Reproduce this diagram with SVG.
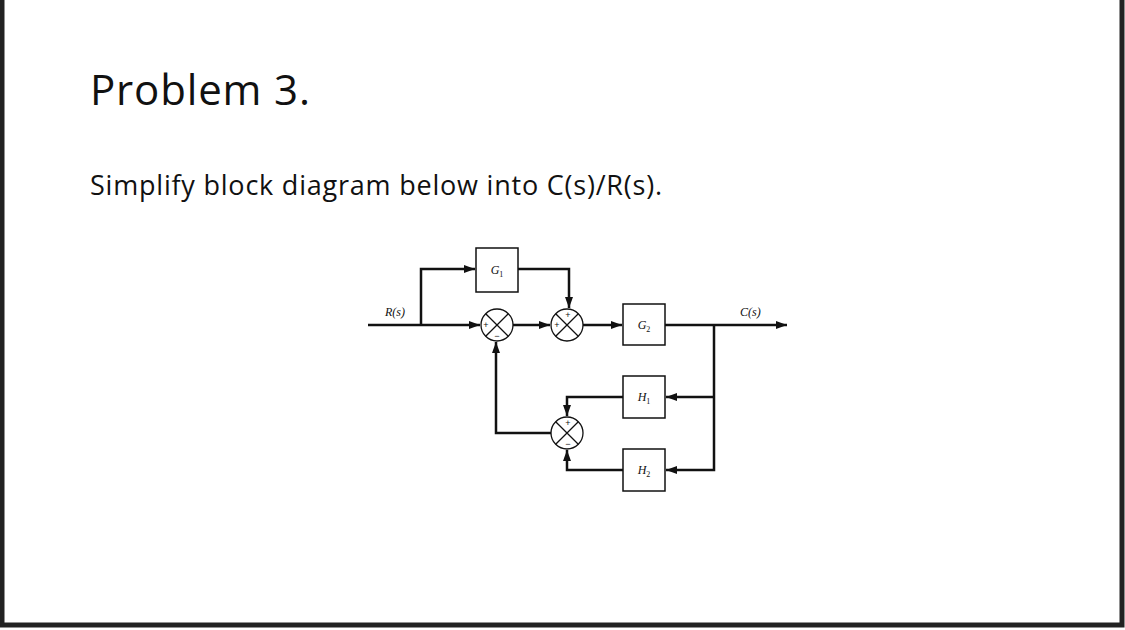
<svg xmlns="http://www.w3.org/2000/svg" width="1125" height="630" viewBox="0 0 1125 630">
<style>
.ln{fill:none;stroke:#111;stroke-width:2.5}
.bx{fill:#fff;stroke:#111;stroke-width:1.5}
.sm{fill:#fff;stroke:#111;stroke-width:1.3}
.lb{font-family:"Liberation Serif",serif;font-style:italic;font-size:12px;fill:#111}
.sg{font-family:"Liberation Sans",sans-serif;font-size:9px;fill:#111}
</style>
<defs><marker id="b" viewBox="0 0 10 8" refX="10" refY="4" markerWidth="11" markerHeight="8" orient="auto" markerUnits="userSpaceOnUse" preserveAspectRatio="none"><path d="M0,0L10,4L0,8z" fill="#111"/></marker></defs>
<rect width="1125" height="630" fill="#fff"/>
<rect x="2" y="-5" width="1120" height="630" fill="none" stroke="#222" stroke-width="5"/>
<text x="90" y="105" font-family="Open Sans,Liberation Sans,sans-serif" font-size="42" textLength="220" fill="#111">Problem 3.</text>
<text x="90" y="195" font-family="Open Sans,Liberation Sans,sans-serif" font-size="27" textLength="572" fill="#111">Simplify block diagram below into C(s)/R(s).</text>
<g id="connectors">
<path class="ln" d="M368,325H480" marker-end="url(#b)"/>
<path class="ln" d="M421,325V269H475" marker-end="url(#b)"/>
<path class="ln" d="M518,269H569V308" marker-end="url(#b)"/>
<path class="ln" d="M513,325H550" marker-end="url(#b)"/>
<path class="ln" d="M583,325H622" marker-end="url(#b)"/>
<path class="ln" d="M665,325H787" marker-end="url(#b)"/>
<path class="ln" d="M714,325V470H666" marker-end="url(#b)"/>
<path class="ln" d="M714,397H666" marker-end="url(#b)"/>
<path class="ln" d="M623,397H567V416" marker-end="url(#b)"/>
<path class="ln" d="M623,470H567V450" marker-end="url(#b)"/>
<path class="ln" d="M551,433H496V342" marker-end="url(#b)"/>
</g>
<g id="G1"><rect class="bx" x="476" y="248" width="42" height="44"/><text class="lb" x="497" y="274" text-anchor="middle">G<tspan font-size="8" dy="3" font-style="normal">1</tspan></text></g>
<g id="G2"><rect class="bx" x="623" y="304" width="42" height="41"/><text class="lb" x="644" y="329" text-anchor="middle">G<tspan font-size="8" dy="3" font-style="normal">2</tspan></text></g>
<g id="H1"><rect class="bx" x="623" y="376" width="42" height="42"/><text class="lb" x="644" y="401" text-anchor="middle">H<tspan font-size="8" dy="3" font-style="normal">1</tspan></text></g>
<g id="H2"><rect class="bx" x="623" y="449" width="42" height="42"/><text class="lb" x="644" y="474" text-anchor="middle">H<tspan font-size="8" dy="3" font-style="normal">2</tspan></text></g>
<g id="S1"><circle class="sm" cx="497" cy="325" r="16"/><path class="sm" d="M485.7,313.7L508.3,336.3M508.3,313.7L485.7,336.3"/><text class="sg" x="486" y="328" text-anchor="middle">+</text><text class="sg" x="497" y="339" text-anchor="middle">−</text></g>
<g id="S2"><circle class="sm" cx="567" cy="325" r="16"/><path class="sm" d="M555.7,313.7L578.3,336.3M578.3,313.7L555.7,336.3"/><text class="sg" x="557" y="328" text-anchor="middle">+</text><text class="sg" x="568" y="318" text-anchor="middle">+</text></g>
<g id="S3"><circle class="sm" cx="567" cy="433" r="16"/><path class="sm" d="M555.7,421.7L578.3,444.3M578.3,421.7L555.7,444.3"/><text class="sg" x="568" y="426" text-anchor="middle">+</text><text class="sg" x="568" y="447" text-anchor="middle">−</text></g>
<text class="lb" x="385" y="316" font-size="11">R(s)</text>
<text class="lb" x="740" y="316" font-size="11">C(s)</text>
</svg>
